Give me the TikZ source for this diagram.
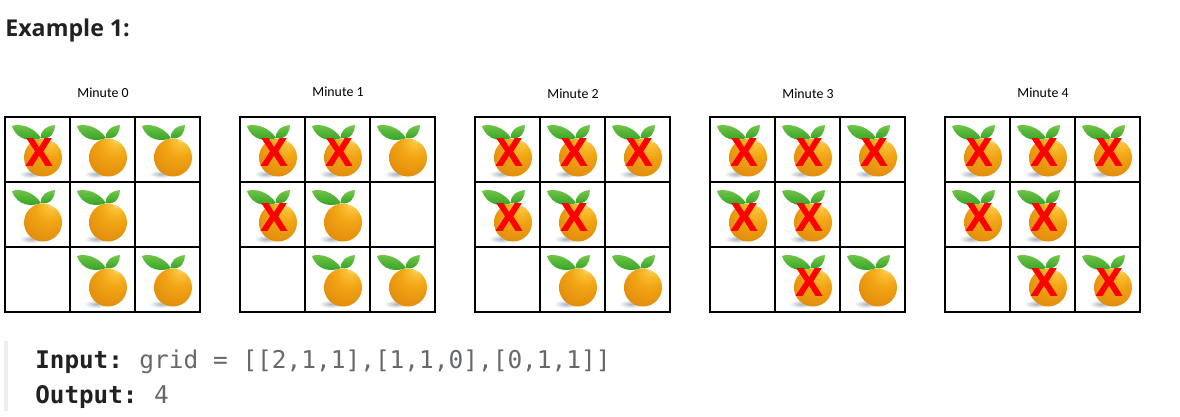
\documentclass[tikz,border=0pt]{standalone}
\usepackage{fontspec}
\setmainfont{Carlito}
\newfontfamily\headfont{Open Sans}
\newfontfamily\codefont{DejaVu Sans Mono}
\newfontfamily\markfont[BoldFeatures={FakeBold=2.5}]{Liberation Sans}
\usetikzlibrary{positioning}
\definecolor{leafdark}{HTML}{2FA024}
\definecolor{leaflight}{HTML}{76C84A}
\definecolor{codegray}{HTML}{66696C}
\definecolor{headblack}{HTML}{212121}
\definecolor{barsilver}{HTML}{EEEEEE}
\definecolor{shadowgray}{HTML}{A8B6C4}
\definecolor{ballhigh}{HTML}{FFF2C4}
\definecolor{ballmid}{HTML}{FAC238}
\definecolor{ballbody}{HTML}{F2A514}
\definecolor{balllow}{HTML}{E38E0E}
\definecolor{balledge}{HTML}{B06A10}
\pgfdeclareradialshading{orangeball}{\pgfpoint{13bp}{29bp}}{%
  color(0bp)=(ballhigh);
  color(7bp)=(ballmid);
  color(18bp)=(ballbody);
  color(34bp)=(balllow);
  color(50bp)=(balledge)}
\tikzset{
    % one pixel of the picture
    x=0.02cm, y=-0.02cm,
    % text
    minutelabel/.style={font=\fontsize{7.9}{9}\selectfont, text=black, inner sep=0pt},
    rottenmark/.style={font=\markfont\bfseries\fontsize{22}{22}\selectfont, text=red, inner sep=0pt},
    codeline/.style={font=\codefont\fontsize{13.8}{16}\selectfont, text=headblack, inner sep=0pt},
    codevalue/.style={font=\codefont\fontsize{13.92}{16}\selectfont, text=codegray, inner sep=0pt},
    % grid lines
    gridline/.style={line width=1pt, black},
    % one orange, the origin is the corner of its cell
    pics/orange/.style={code={
        \shade [inner color=shadowgray, outer color=white] (26,57) ellipse [x radius=12, y radius=4];
        \shade [shading=orangeball] (38,40.5) circle [radius=19];
        \shade [top color=leaflight, bottom color=leafdark]
            (7,9) .. controls (15,6) and (29,10) .. (36,21) .. controls (27,25) and (12,24) .. (7,9) -- cycle;
        \shade [top color=leaflight, bottom color=leafdark]
            (36,21) .. controls (35,14) and (41,9) .. (50,8) .. controls (50,15) and (46,23) .. (36,21) -- cycle;
    }}
}
\begin{document}
\begin{tikzpicture}

\useasboundingbox [fill=white] (0,0) rectangle (1180,416);

% title
\node [font=\headfont\bfseries\fontsize{13.2}{15}\selectfont, text=headblack, anchor=base west, inner sep=0pt] (title) at (5,36) {Example 1:};

% the five grids
\foreach \minute/\xgrid/\ylabel/\rottenlist in {
    0/5/93/{0/0},
    1/240/92/{0/0,1/0,0/1},
    2/475/94/{0/0,1/0,2/0,0/1,1/1},
    3/710/94/{0/0,1/0,2/0,0/1,1/1,1/2},
    4/945/93/{0/0,1/0,2/0,0/1,1/1,1/2,2/2}} {
  \begin{scope}[shift={(\xgrid,117)}]
    % label
    \node [minutelabel] (label\minute) at (98,\ylabel-117) {Minute \minute};

    % oranges
    \foreach \col/\row in {0/0,1/0,2/0,0/1,1/1,1/2,2/2}
      \pic at (65*\col,65*\row) {orange};

    % rotten ones
    \foreach \col/\row in \rottenlist
      \node [rottenmark] (mark\minute\col\row) at (65*\col+34,65*\row+35) {X};

    % lines
    \draw [gridline] (0,0) rectangle (195,195);
    \draw [gridline, line width=1.2pt] (65,0) -- (65,195);
    \draw [gridline, line width=1.2pt] (130,0) -- (130,195);
    \draw [gridline, line width=1.2pt] (0,65) -- (195,65);
    \draw [gridline, line width=1.2pt] (0,130) -- (195,130);
  \end{scope}
}

% code block
\fill [barsilver] (4,341) rectangle (8,411);
\node [codeline, anchor=base west] (input) at (35,368) {\bfseries Input:};
\node [codevalue, base right=9pt of input] (inputvalue) {grid = [[2,1,1],[1,1,0],[0,1,1]]};
\node [codeline, anchor=base west] (output) at (35,403) {\bfseries Output:};
\node [codevalue, base right=9pt of output] (outputvalue) {4};

\end{tikzpicture}
\end{document}
